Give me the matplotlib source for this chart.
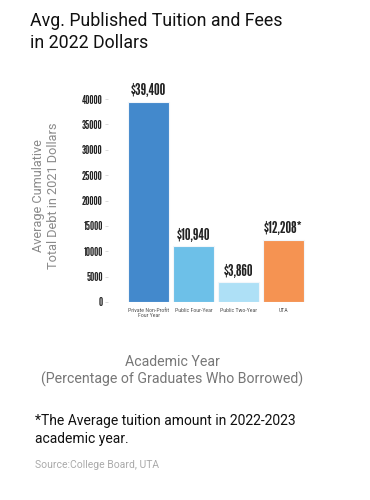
import matplotlib.pyplot as plt

categories = ["Private Non-Profit\nFour Year", "Public Four-Year", "Public Two-Year", "UTA"]
values = [39400, 10940, 3860, 12208]
value_labels = ["$39,400", "$10,940", "$3,860", "$12,208*"]
colors = ["#4389CC", "#6DC0E8", "#AEE0F6", "#F59352"]
yticks = [0, 5000, 10000, 15000, 20000, 25000, 30000, 35000, 40000]

narrow = ["League Gothic", "Oswald", "Barlow Condensed", "DejaVu Sans"]
plain = ["Roboto", "DejaVu Sans"]
small = ["Roboto Condensed", "Roboto", "DejaVu Sans"]

fig = plt.figure(figsize=(3.7, 5), dpi=100)
ax = fig.add_axes([126 / 370, 198 / 500, 225 / 370, 203 / 500])
# offsets are in points (1 pt = 100/72 px here)
ax.spines["left"].set_position(("outward", 13))
for s in ["top", "right", "bottom", "left"]:
    ax.spines[s].set_visible(False)

x = list(range(len(categories)))
bars = ax.bar(x, values, width=0.9, color=colors, edgecolor="#f2f6fa", linewidth=0.8)
for b, lab in zip(bars, value_labels):
    ax.text(b.get_x() + b.get_width() / 2, b.get_height() + 700, lab,
            ha="center", va="bottom", fontsize=11.5, family=narrow, color="#222222")

ax.set_xlim(-0.5, 4.5)
ax.set_ylim(0, 40000)
ax.set_xticks(x)
ax.set_xticklabels(categories, fontsize=4.2, color="#555555", family=small, linespacing=1.1)
ax.tick_params(axis="x", length=0, pad=4)
ax.set_yticks(yticks)
ax.set_yticklabels([str(t) for t in yticks], fontsize=8.5, family=narrow, color="#222222")
ax.tick_params(axis="y", length=2.2, width=0.5, color="#cccccc", pad=1.5)

fig.text(30 / 370, 1 - 32 / 500, "Avg. Published Tuition and Fees\nin 2022 Dollars",
         ha="left", va="center", fontsize=12.8, family=plain, color="#111111",
         linespacing=1.25)
fig.text(46 / 370, 1 - 196 / 500, "Average Cumulative\nTotal Debt in 2021 Dollars",
         ha="center", va="center", rotation=90, fontsize=9.2, family=plain,
         color="#8a8a8a", linespacing=1.15)
fig.text(172 / 370, 1 - 371 / 500, "Academic Year\n(Percentage of Graduates Who Borrowed)",
         ha="center", va="center", fontsize=10.2, family=plain,
         color="#777777", linespacing=1.25)
fig.text(35 / 370, 1 - 430 / 500, "*The Average tuition amount in 2022-2023\nacademic year.",
         ha="left", va="center", fontsize=10, family=plain, color="#111111",
         linespacing=1.3)
fig.text(35 / 370, 1 - 465 / 500, "Source:College Board, UTA",
         ha="left", va="center", fontsize=7.5, family=plain, color="#aaaaaa")

fig.savefig("out.png", dpi=100)
